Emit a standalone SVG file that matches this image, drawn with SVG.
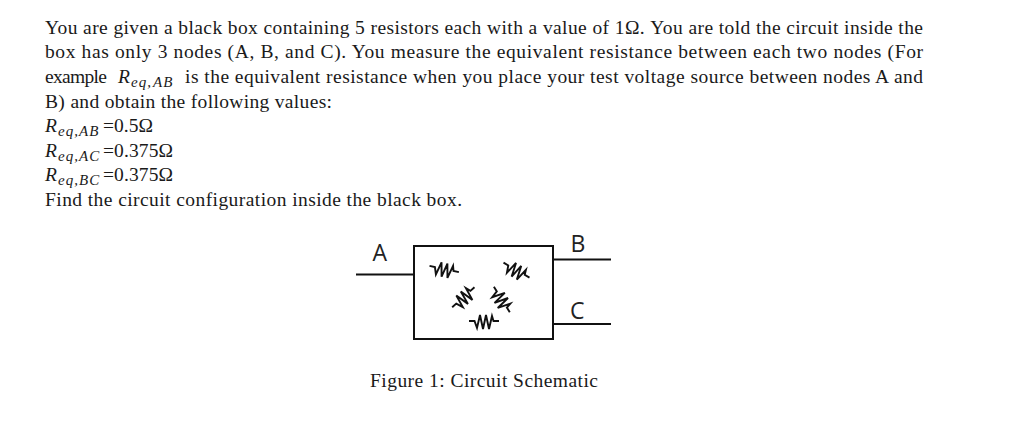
<svg xmlns="http://www.w3.org/2000/svg" width="1018" height="422" viewBox="0 0 1018 422">
<defs>
<style>
.t{font-family:"Liberation Serif","Times New Roman",serif;font-size:19.5px;fill:#1a1a1a}
.i{font-style:italic}
.s{font-family:"Liberation Serif","Times New Roman",serif;font-size:15px;font-style:italic;fill:#1a1a1a;letter-spacing:1px}
.l{font-family:"Open Sans","Noto Sans",sans-serif;font-size:23px;fill:#222}
.w{fill:none;stroke:#111;stroke-width:2}
.z{fill:none;stroke:#111;stroke-width:1.9;stroke-linejoin:miter}
</style>
<path id="r" class="z" d="M-15 -1H-9.500L-7 6L-4 -7L-1 7L2 -7L5 7L8 -6L9.500 -1H15"/>
</defs>
<rect width="1018" height="422" fill="#fff"/>
<g id="text">
<text class="t" x="45" y="34" textLength="878" lengthAdjust="spacing">You are given a black box containing 5 resistors each with a value of 1Ω. You are told the circuit inside the</text>
<text class="t" x="45" y="58" textLength="878" lengthAdjust="spacing">box has only 3 nodes (A, B, and C). You measure the equivalent resistance between each two nodes (For</text>
<text class="t" x="45" y="83" textLength="62" lengthAdjust="spacing">example</text>
<text class="t i" x="118" y="83">R</text><text class="s" y="87"><tspan x="131">eq,</tspan><tspan x="153">AB</tspan></text>
<text class="t" x="185" y="83" textLength="738" lengthAdjust="spacing">is the equivalent resistance when you place your test voltage source between nodes A and</text>
<text class="t" x="45" y="108" textLength="287" lengthAdjust="spacing">B) and obtain the following values:</text>
<text class="t i" x="45" y="132">R</text><text class="s" y="136"><tspan x="58">eq,</tspan><tspan x="79">AB</tspan></text><text class="t" x="103" y="132" textLength="50" lengthAdjust="spacing">=0.5Ω</text>
<text class="t i" x="45" y="157">R</text><text class="s" y="161"><tspan x="58">eq,</tspan><tspan x="79">AC</tspan></text><text class="t" x="103" y="157" textLength="70" lengthAdjust="spacing">=0.375Ω</text>
<text class="t i" x="45" y="181">R</text><text class="s" y="185"><tspan x="58">eq,</tspan><tspan x="79">BC</tspan></text><text class="t" x="103" y="181" textLength="70" lengthAdjust="spacing">=0.375Ω</text>
<text class="t" x="45" y="206" textLength="417" lengthAdjust="spacing">Find the circuit configuration inside the black box.</text>
<text class="t" x="370" y="387" textLength="228" lengthAdjust="spacing">Figure 1: Circuit Schematic</text>
</g>
<g id="box"><rect class="w" x="414" y="246" width="139" height="93"/></g>
<g id="connectors">
<path class="w" d="M356 274.500H414M553 259.500H611M553 324H611"/>
</g>
<g id="node-a"><text class="l" x="372.500" y="261">A</text></g>
<g id="node-b"><text class="l" x="570.500" y="252">B</text></g>
<g id="node-c"><text class="l" x="570" y="318.500">C</text></g>
<g id="r1"><use href="#r" transform="translate(444 270) rotate(12)"/></g>
<g id="r2"><use href="#r" transform="translate(516 271) rotate(30)"/></g>
<g id="r3"><use href="#r" transform="translate(464 298) rotate(-42)"/></g>
<g id="r4"><use href="#r" transform="translate(501 300) rotate(58)"/></g>
<g id="r5"><use href="#r" transform="translate(484 322)"/></g>
</svg>
